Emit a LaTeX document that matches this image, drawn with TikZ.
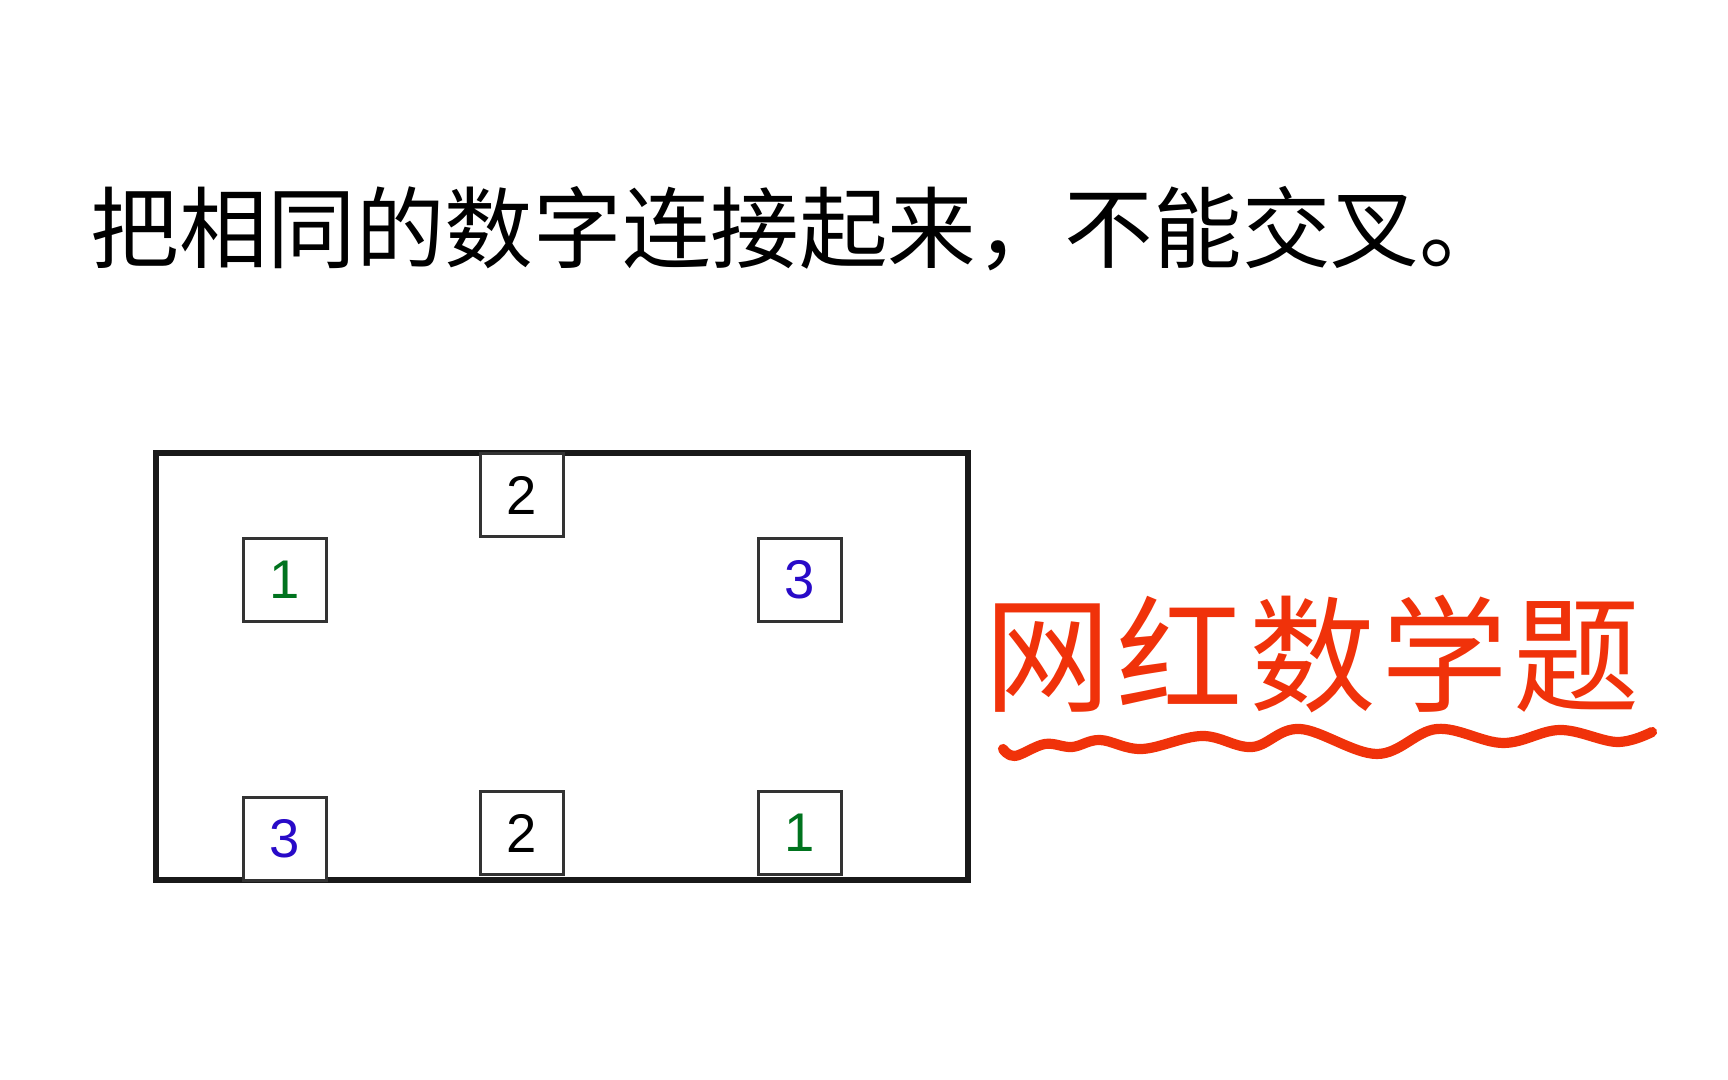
\documentclass[tikz,border=0pt]{standalone}
\usepackage{fontspec}
\setmainfont{Liberation Sans}
\newfontfamily\cjk{Noto Sans CJK SC}
\newfontfamily\cjkespace[LetterSpace=4.5]{Noto Sans CJK SC}
\definecolor{chiffrevert}{RGB}{0,115,30}
\definecolor{chiffrebleu}{RGB}{40,10,200}
\definecolor{rougetitre}{RGB}{240,50,10}
\definecolor{bordcase}{RGB}{51,51,51}
\begin{document}
\begin{tikzpicture}  % ------ Relier les nombres ---------------
      [case/.style={draw=bordcase,line width=1.1pt,fill=white,minimum size=0.83cm,
                    inner sep=0pt,font=\fontsize{15.5}{16}\selectfont},
       cadre/.style={draw=black!90,line width=1.6pt}]
    \useasboundingbox (0,0) rectangle (17.28,10.8);

    \coordinate (C1) at (1.56,2.00);
    \coordinate (C2) at (9.68,2.00);
    \coordinate (C3) at (9.68,6.27);
    \coordinate (C4) at (1.56,6.27);

    \draw [cadre] (C1) -- (C2) -- (C3) -- (C4) -- cycle ;

    \node [case] (H2) at (5.22,5.85) {2};
    \node [case,text=chiffrevert] (H1) at (2.85,5.00) {1};
    \node [case,text=chiffrebleu] (H3) at (8.00,5.00) {3};
    \node [case,text=chiffrebleu] (B3) at (2.85,2.41) {3};
    \node [case] (B2) at (5.22,2.47) {2};
    \node [case,text=chiffrevert] (B1) at (8.00,2.47) {1};

    \node [anchor=west,inner sep=0pt,font=\cjk\fontsize{25.2}{26}\selectfont] (consigne)
          at (0.90,8.51) {把相同的数字连接起来，不能交叉。};

    \node [anchor=west,inner sep=0pt,text=rougetitre,font=\cjkespace\fontsize{36}{38}\selectfont] (titre)
          at (9.84,4.26) {网红数学题};

    \draw [rougetitre,line width=2.9pt,line cap=round,line join=round]
          plot [smooth,tension=0.6] coordinates {(10.03,3.31) (10.15,3.24) (10.45,3.36)
          (10.72,3.33) (11.00,3.40) (11.42,3.31) (12.02,3.44) (12.52,3.33) (13.00,3.51)
          (13.77,3.26) (14.37,3.51) (15.03,3.37) (15.60,3.50) (16.17,3.38) (16.52,3.48)} ;
\end{tikzpicture}
\end{document}
